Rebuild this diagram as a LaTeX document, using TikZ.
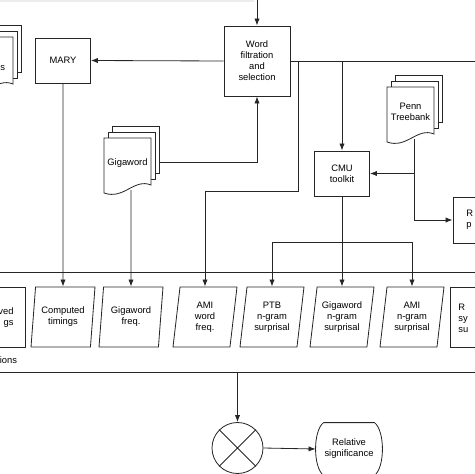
\documentclass[tikz,border=0pt]{standalone}
\usepackage{fontspec}
\setmainfont{Liberation Sans}
\usetikzlibrary{arrows.meta,shapes.geometric}
\tikzset{box/.style={draw, rectangle, align=center, inner sep=1pt, fill=white},
  data/.style={draw, trapezium, trapezium left angle=77, trapezium right angle=103,
    trapezium stretches body, minimum width=1.92cm, minimum height=1.8cm,
    inner sep=0pt, align=center},
  page/.style={draw, fill=white},
  part/.style={inner sep=0pt},
  arr/.style={-{Latex[length=6pt,width=4.5pt]}}}
% name, x and y of the front page, text
\newcommand{\docstack}[4]{%
  \draw[page] (#2+8,#3-12) rectangle ++(47,47);
  \draw[page] (#2+4,#3-6) rectangle ++(47,47);
  \draw[page] (#2,#3) -- (#2+47,#3) -- (#2+47,#3+47)
    .. controls (#2+30,#3+40) and (#2+20,#3+62) .. (#2,#3+55) -- cycle;
  \node[align=center] (#1) at (#2+23.5,#3+25) {#4};
}

\begin{document}
\begin{tikzpicture}[x=0.03cm, y=-0.03cm, line width=0.7pt, draw=black!85,
    font=\fontsize{8}{9.4}\selectfont]
            \useasboundingbox (0,0) rectangle (474,474);
            \fill[gray!15] (0,0) rectangle (254,2);
            % sources
            \docstack{recorded}{-34}{37}{}
            \node[part, anchor=east] (recordedtxt) at (5.5,68) {s};
            \docstack{gigaword}{104}{138}{Gigaword}
            \docstack{penn}{387}{87}{Penn\\Treebank}
            \node[box, minimum width=1.65cm, minimum height=1.35cm] (mary) at (63,60.5) {MARY};
            \node[box, minimum width=1.98cm, minimum height=2.1cm] (word) at (257,61) {Word\\filtration\\and\\selection};
            \node[box, minimum width=1.65cm, minimum height=1.35cm] (cmu) at (342,173.5) {CMU\\toolkit};
            \node[box, minimum width=1.65cm, minimum height=1.38cm] (rparser) at (480.5,220) {};
            \node[part, anchor=west, align=left] (rparsertxt) at (466,219.5) {R\\p};
            % measures
            \draw (-10,272) rectangle (484,372);
            \node[part, anchor=east] (grouplabel) at (17.5,360) {ions};
            \node[data] (observed) at (-7,317) {};
            \node[part, anchor=east, align=right] (observedtxt) at (14,317.5) {ved\\gs};
            \node[data] (computed) at (63,317) {Computed\\timings};
            \node[data] (gigafreq) at (131,317) {Gigaword\\freq.};
            \node[data] (amifreq) at (205,317) {AMI\\word\\freq.};
            \node[data] (ptb) at (272,317) {PTB\\n-gram\\surprisal};
            \node[data] (gigangram) at (342,317) {Gigaword\\n-gram\\surprisal};
            \node[data] (amingram) at (412,317) {AMI\\n-gram\\surprisal};
            \node[data] (roark) at (482,317) {};
            \node[part, anchor=west, align=left] (roarktxt) at (458,318) {R\\sy\\su};
            % analysis
            \node[draw, circle, minimum size=1.53cm, inner sep=0pt] (combine) at (237.5,448) {};
            \draw (combine.north west) -- (combine.south east) (combine.north east) -- (combine.south west);
            \node[minimum width=1.98cm, minimum height=1.56cm, inner sep=0pt, align=center] (relsig) at (349,449) {Relative\\significance};
            \draw ([shift={(8,0)}]relsig.north west) -- ([shift={(-8,0)}]relsig.north east)
              .. controls ([shift={(2.7,8)}]relsig.north east) and ([shift={(2.7,-8)}]relsig.south east) .. ([shift={(-8,0)}]relsig.south east)
              -- ([shift={(8,0)}]relsig.south west)
              .. controls ([shift={(-2.7,-8)}]relsig.south west) and ([shift={(-2.7,8)}]relsig.north west) .. ([shift={(8,0)}]relsig.north west);
            % connectors
            \coordinate (wordin) at (257,-2);
            \coordinate (wordright) at (480,61);
            \coordinate (split1) at (298,61);
            \coordinate (split2) at (342,61);
            \coordinate (amibend) at (298,191);
            \coordinate (gigaword-e) at (159,162);
            \coordinate (gigaword-s) at (131,190);
            \coordinate (penn-s) at (414,139);
            \coordinate (cmubus) at (342,242);
            \coordinate (groupout) at (237.5,372);
            \draw[arr] (wordin) -- (word.north);
            \draw[arr] (word.west) -- (mary.east);
            \draw[arr] (mary.south) -- (computed.north);
            \draw[arr] (gigaword-e) -| (word.south);
            \draw[arr] (gigaword-s) -- (gigafreq.north);
            \draw (word.east) -- (wordright);
            \draw[arr] (split1) -- (amibend) -| (amifreq.north);
            \draw[arr] (split2) -- (cmu.north);
            \draw (cmu.south) -- (cmubus);
            \draw (cmubus -| ptb.north) -- (cmubus -| amingram.north);
            \foreach \n in {ptb,gigangram,amingram}
              \draw[arr] (cmubus -| \n.north) -- (\n.north);
            \draw[arr] (penn-s) |- (rparser.west);
            \draw[arr] (penn-s |- cmu.east) -- (cmu.east);
            \draw[arr] (groupout) -- (combine.north);
            \draw[arr] (combine.east) -- (relsig.west);
        \end{tikzpicture}
\end{document}
